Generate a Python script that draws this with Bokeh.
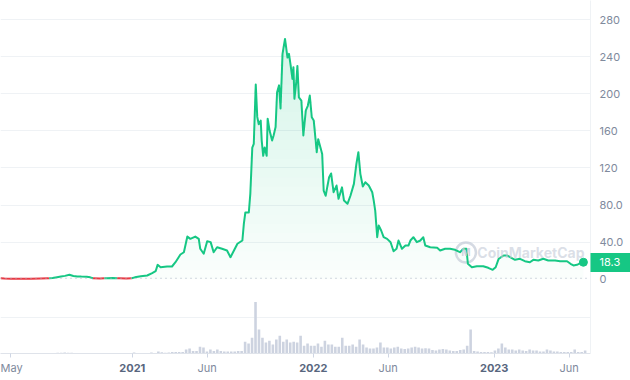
import numpy as np
import pandas as pd
from bokeh.plotting import figure
from bokeh.models import Range1d, FixedTicker, Span, Label, Grid, LinearAxis
from bokeh.embed import file_html
from bokeh.resources import INLINE

# ---------------- data ----------------
price_dates = [
    "2020-04-10", "2020-04-18", "2020-05-01", "2020-05-20", "2020-06-10", "2020-06-30",
    "2020-07-15", "2020-07-24", "2020-08-02", "2020-08-10", "2020-08-18", "2020-08-27",
    "2020-09-04", "2020-09-12", "2020-09-20", "2020-10-01", "2020-10-08", "2020-10-14",
    "2020-10-28", "2020-11-10", "2020-11-22", "2020-12-06", "2020-12-20", "2020-12-30",
    "2021-01-06", "2021-01-18", "2021-01-31", "2021-02-10", "2021-02-17", "2021-02-21",
    "2021-02-27", "2021-03-12", "2021-03-22", "2021-03-29", "2021-04-08", "2021-04-15",
    "2021-04-22", "2021-04-28", "2021-05-08", "2021-05-15", "2021-05-18", "2021-05-25",
    "2021-06-01", "2021-06-08", "2021-06-14", "2021-06-21", "2021-07-01", "2021-07-11",
    "2021-07-18", "2021-07-25", "2021-08-01", "2021-08-11", "2021-08-14", "2021-08-17",
    "2021-08-24", "2021-08-27", "2021-08-31", "2021-09-03", "2021-09-07", "2021-09-10",
    "2021-09-13", "2021-09-17", "2021-09-19", "2021-09-22", "2021-09-25", "2021-09-29",
    "2021-10-01", "2021-10-05", "2021-10-10", "2021-10-13", "2021-10-17", "2021-10-20",
    "2021-10-24", "2021-10-27", "2021-10-31", "2021-11-05", "2021-11-10", "2021-11-13",
    "2021-11-16", "2021-11-20", "2021-11-22", "2021-11-24", "2021-11-28", "2021-11-30",
    "2021-12-03", "2021-12-08", "2021-12-12", "2021-12-17", "2021-12-21", "2021-12-25",
    "2021-12-29", "2022-01-02", "2022-01-08", "2022-01-11", "2022-01-19", "2022-01-22",
    "2022-01-26", "2022-02-02", "2022-02-06", "2022-02-11", "2022-02-17", "2022-02-21",
    "2022-02-28", "2022-03-04", "2022-03-11", "2022-03-17", "2022-03-24", "2022-03-29",
    "2022-04-02", "2022-04-06", "2022-04-11", "2022-04-16", "2022-04-23", "2022-04-30",
    "2022-05-03", "2022-05-06", "2022-05-10", "2022-05-13", "2022-05-18", "2022-05-23",
    "2022-05-30", "2022-06-06", "2022-06-12", "2022-06-18", "2022-06-22", "2022-06-29",
    "2022-07-06", "2022-07-12", "2022-07-16", "2022-07-22", "2022-07-29", "2022-08-05",
    "2022-08-11", "2022-08-15", "2022-08-25", "2022-09-08", "2022-09-14", "2022-09-24",
    "2022-10-04", "2022-10-14", "2022-10-24", "2022-10-31", "2022-11-06", "2022-11-09",
    "2022-11-17", "2022-11-27", "2022-12-10", "2022-12-20", "2022-12-29", "2023-01-04",
    "2023-01-10", "2023-01-20", "2023-01-27", "2023-02-02", "2023-02-12", "2023-02-22",
    "2023-03-04", "2023-03-14", "2023-03-21", "2023-03-31", "2023-04-10", "2023-04-20",
    "2023-05-04", "2023-05-14", "2023-05-28", "2023-06-04", "2023-06-10", "2023-06-17",
    "2023-06-24", "2023-06-30",
]
price_values = [
    1.0, 0.7, 0.6, 0.55, 0.6, 0.75,
    0.9, 1.3, 2.1, 2.9, 3.6, 4.8,
    3.5, 3.0, 2.8, 2.7, 2.0, 0.9,
    0.8, 1.1, 1.2, 0.9, 0.7, 0.9,
    2.0, 3.2, 4.0, 6.5, 8.6, 15.5,
    12.9, 13.7, 13.7, 18.3, 26.6, 29.1,
    46.0, 43.5, 46.0, 43.5, 32.8, 27.4,
    41.0, 40.0, 29.1, 34.5, 32.8, 31.0,
    23.7, 31.0, 38.2, 41.7, 60.0, 72.0,
    72.0, 92.0, 142.0, 146.0, 210.0, 175.0,
    167.0, 171.0, 149.5, 133.0, 142.0, 133.0,
    173.0, 160.0, 149.5, 155.0, 164.0, 201.6,
    209.0, 184.0, 243.0, 259.0, 239.0, 243.0,
    232.0, 216.0, 228.6, 194.5, 214.0, 230.0,
    196.0, 192.6, 155.0, 182.0, 187.0, 198.0,
    174.6, 171.0, 137.0, 151.0, 135.0, 95.6,
    90.0, 110.0, 114.0, 93.8, 101.0, 86.7,
    99.0, 84.8, 81.3, 90.0, 102.8, 124.4,
    137.0, 113.6, 100.0, 104.6, 101.0, 93.8,
    84.8, 74.0, 45.3, 57.9, 52.5, 45.3,
    43.5, 39.9, 30.2, 32.8, 41.7, 32.8,
    36.3, 36.3, 41.7, 45.3, 40.0, 41.7,
    45.3, 36.3, 34.5, 33.8, 31.0, 32.8,
    32.8, 31.7, 29.1, 32.8, 32.8, 16.6,
    12.9, 14.0, 14.0, 12.3, 10.1, 12.9,
    22.0, 25.6, 25.6, 23.7, 20.9, 22.0,
    19.4, 18.3, 20.9, 20.2, 22.0, 20.2,
    20.2, 19.4, 19.4, 16.6, 14.8, 15.5,
    17.3, 18.3,
]

# weekly trading volume (billions USD), weeks starting 2020-04-10
volume_week_start = "2020-04-10"
volume_bn = [
    0.08, 0.06, 0.05, 0.05, 0.05, 0.05, 0.06, 0.05, 0.05, 0.06,
    0.06, 0.07, 0.08, 0.10, 0.12, 0.15, 0.18, 0.20, 0.25, 0.22,
    0.18, 0.15, 0.12, 0.12, 0.10, 0.10, 0.12, 0.10, 0.10, 0.12,
    0.12, 0.15, 0.12, 0.10, 0.10, 0.10, 0.12, 0.15,
    0.30, 0.15, 0.12, 0.10, 0.12, 0.30, 0.15, 0.55, 0.35, 0.20,
    0.30, 0.40, 0.40, 0.40, 0.40, 1.10, 1.40, 0.70, 0.70, 1.90,
    1.70, 0.55, 1.10, 0.70, 1.10, 0.70, 0.55, 0.55, 0.55, 0.55,
    0.70, 0.70, 3.30, 2.80, 4.40, 14.4, 6.70, 4.40, 3.10, 3.60,
    2.50, 3.90, 5.00, 3.30, 3.90, 3.10, 3.30, 3.10, 5.00, 2.20,
    2.80, 2.20, 2.20, 2.80, 1.90, 3.60, 2.50, 2.50, 1.90, 1.90,
    4.40, 2.20, 2.20, 2.50, 1.90, 3.90, 2.50, 1.70, 1.40, 1.40,
    1.70, 3.10, 1.70, 1.70, 1.40, 1.70, 1.90, 1.40, 1.25, 1.40,
    1.70, 1.90, 1.70, 1.40, 1.50, 1.40, 1.00, 0.85, 1.10, 1.25,
    1.10, 0.85, 0.70, 0.70, 1.00, 1.10, 2.20, 6.70, 0.70, 0.55,
    0.40, 0.40, 0.40, 0.35, 0.85, 1.40, 2.80, 1.70, 1.10, 1.10,
    0.85, 1.10, 0.85, 0.70, 1.10, 0.85, 0.85, 0.55, 0.55, 1.10,
    0.85, 0.55, 0.55, 0.40, 0.40, 0.40, 0.40, 1.10, 0.40, 0.40,
    0.85,
]

x_tick_dates = ["2020-05-01", "2021-01-01", "2021-06-01", "2022-01-01",
                "2022-06-01", "2023-01-01", "2023-06-01"]
x_tick_labels = ["May", "2021", "Jun", "2022", "Jun", "2023", "Jun"]
y_ticks = [0, 40, 80, 120, 160, 200, 240, 280]
y_tick_labels = ["0", "40.0", "80.0", "120", "160", "200", "240", "280"]
volume_grid = [10]

# ---------------- styling constants ----------------
GREEN = "#16c784"
RED = "#ea3943"
GRID = "#eff2f5"
LABEL = "#808a9d"
FONT = "Inter"
DAY_MS = 86400000.0
Y_MIN, Y_MAX = -80.1, 300.5


def to_ms(dates):
    return pd.to_datetime(dates).values.astype("datetime64[ms]").astype("int64").astype(float)


px = to_ms(price_dates)
pv = np.array(price_values, dtype=float)
base = pv[0]
last = float(pv[-1])

x_start = to_ms(["2020-04-10"])[0]
x_end = to_ms(["2023-07-14 08:00"])[0]

vol_dates = pd.date_range(volume_week_start, periods=len(volume_bn), freq="7D")
vol_x = to_ms(vol_dates) + 3.5 * DAY_MS

p = figure(width=630, height=380, x_axis_location=None, y_axis_location=None,
           x_range=Range1d(x_start, x_end), y_range=Range1d(Y_MIN, Y_MAX),
           output_backend="svg", toolbar_location=None,
           min_border_left=0, min_border_right=40, min_border_top=0, min_border_bottom=27,
           outline_line_color=None, background_fill_color="white", border_fill_color="white")

p.extra_y_ranges = {"vol": Range1d(0, 98.9)}

# grids
p.grid.visible = False
p.add_layout(Grid(dimension=1, ticker=FixedTicker(ticks=y_ticks[1:]), grid_line_color=GRID))
p.add_layout(Grid(dimension=1, ticker=FixedTicker(ticks=volume_grid), y_range_name="vol",
                  grid_line_color=GRID))

# volume bars
p.vbar(x=vol_x, width=5.2 * DAY_MS, top=volume_bn, bottom=0, y_range_name="vol",
       fill_color="#cdd3e0", line_color=None)

# gradient-like fill under the price line (horizontal bands)
band_step = 10
for lo in range(0, 290, band_step):
    hi = lo + band_step
    top = np.clip(pv, lo, hi)
    alpha = 0.02 + 0.17 * (lo + band_step / 2) / 270.0
    p.varea(x=px, y1=np.full_like(pv, lo), y2=top, fill_color=GREEN, fill_alpha=alpha)

# dotted baseline at the opening price
p.add_layout(Span(location=base, dimension="width", line_color="#a6b0c3",
                  line_dash="1 4", line_width=1))

# split price line into green (above open) and red (below open) pieces
green_xs, green_ys, red_xs, red_ys = [], [], [], []
cur_up = pv[1] >= base
cur_x, cur_y = [px[0]], [pv[0]]
for i in range(1, len(pv)):
    up = pv[i] >= base
    if up != cur_up:
        x0, y0, x1, y1 = px[i - 1], pv[i - 1], px[i], pv[i]
        xc = x0 + (base - y0) * (x1 - x0) / (y1 - y0) if y1 != y0 else x1
        cur_x.append(xc)
        cur_y.append(base)
        if cur_up:
            green_xs.append(cur_x); green_ys.append(cur_y)
        else:
            red_xs.append(cur_x); red_ys.append(cur_y)
        cur_x, cur_y = [xc], [base]
        cur_up = up
    cur_x.append(px[i])
    cur_y.append(pv[i])
if cur_up:
    green_xs.append(cur_x); green_ys.append(cur_y)
else:
    red_xs.append(cur_x); red_ys.append(cur_y)

# watermark (inside the plot area, drawn beneath the price line)
WM_Y = 28.8
wm_x = to_ms(["2022-11-28"])[0]
logo_x = to_ms(["2022-11-05"])[0]
p.scatter(x=[logo_x], y=[WM_Y], size=20, fill_color=None, line_color="#c3cad7",
          line_width=2.5, line_alpha=0.7)
p.add_layout(Label(x=logo_x, y=WM_Y, text="M", text_align="center", text_baseline="middle",
                   text_font=FONT, text_font_size="10px", text_font_style="bold",
                   text_color="#c3cad7", text_alpha=0.8))
p.add_layout(Label(x=wm_x, y=WM_Y, text="CoinMarketCap", text_align="left",
                   text_baseline="middle", text_font=FONT, text_font_size="14px",
                   text_font_style="bold", text_color="#c3cad7", text_alpha=0.6))

p.multi_line(xs=red_xs, ys=red_ys, line_color=RED, line_width=2, line_join="round")
p.multi_line(xs=green_xs, ys=green_ys, line_color=GREEN, line_width=2, line_join="round")
p.scatter(x=[px[-1]], y=[last], size=8, fill_color=GREEN, line_color=GREEN)

# ---- right side: 1) current-price tag axis (nearest the plot), 2) price axis ----
TAG_OUT, TAG_STANDOFF = 40, -31
tag = LinearAxis(ticker=FixedTicker(ticks=[last]),
                 major_label_overrides={last: f"{last:.1f}"},
                 axis_line_color=GRID, minor_tick_line_color=None,
                 major_tick_in=0, major_tick_out=TAG_OUT, major_tick_line_width=19,
                 major_tick_line_color=GREEN, major_tick_line_cap="butt",
                 major_label_standoff=TAG_STANDOFF, major_label_text_color="white",
                 major_label_text_font=FONT, major_label_text_font_size="11px")
p.add_layout(tag, "right")

ya = LinearAxis(ticker=FixedTicker(ticks=y_ticks),
                major_label_overrides={t: s for t, s in zip(y_ticks, y_tick_labels)},
                axis_line_color=None, major_tick_line_color=None, minor_tick_line_color=None,
                major_tick_in=0, major_tick_out=0, major_label_standoff=-24,
                major_label_text_color=LABEL, major_label_text_font=FONT,
                major_label_text_font_size="11px")
p.add_layout(ya, "right")

# ---- bottom: 1) ticks + bold year labels, 2) month labels shifted up onto the same row ----
tick_ms = [int(v) for v in to_ms(x_tick_dates)]
year_axis = LinearAxis(ticker=FixedTicker(ticks=tick_ms),
                       major_label_overrides={t: (s if s.isdigit() else "") for t, s in zip(tick_ms, x_tick_labels)},
                       axis_line_color="#dfe3ea", major_tick_line_color="#cfd6e4",
                       minor_tick_line_color=None, major_tick_in=0, major_tick_out=4,
                       major_label_standoff=6, major_label_text_color="#58667e",
                       major_label_text_font=FONT, major_label_text_font_size="11px",
                       major_label_text_font_style="bold")
p.add_layout(year_axis, "below")

month_axis = LinearAxis(ticker=FixedTicker(ticks=tick_ms),
                        major_label_overrides={t: ("" if s.isdigit() else s) for t, s in zip(tick_ms, x_tick_labels)},
                        axis_line_color=None, major_tick_line_color=None,
                        minor_tick_line_color=None, major_tick_in=0, major_tick_out=0,
                        major_label_standoff=-14, major_label_text_color=LABEL,
                        major_label_text_font=FONT, major_label_text_font_size="11px")
p.add_layout(month_axis, "below")

open("out.html", "w").write(file_html(p, INLINE))
